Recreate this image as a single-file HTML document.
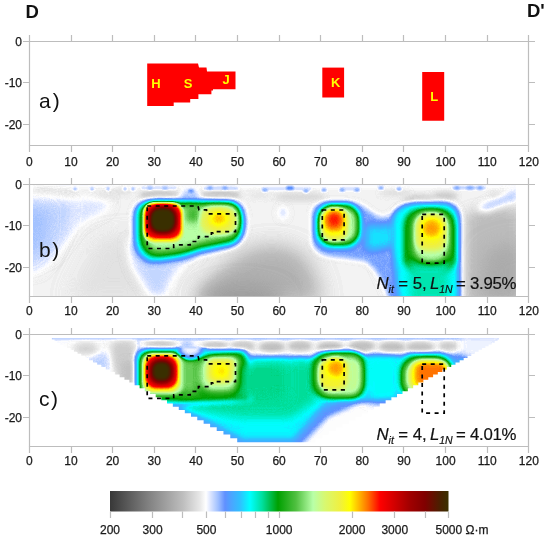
<!DOCTYPE html>
<html><head><meta charset="utf-8"><style>
html,body{margin:0;padding:0;background:#fff;}
svg{display:block;}
.fa{font-family:"Liberation Sans",Arial,sans-serif;font-size:12px;fill:#1a1a1a;stroke:#1a1a1a;stroke-width:0.25px;}
.fb{font-family:"Liberation Sans",Arial,sans-serif;font-size:12px;fill:#1a1a1a;stroke:#1a1a1a;stroke-width:0.25px;}
.lab{font-family:"Liberation Sans",Arial,sans-serif;font-size:21px;fill:#111;}
.big{font-family:"Liberation Sans",Arial,sans-serif;font-size:18.5px;font-weight:bold;fill:#111;}
.ann{font-family:"Liberation Sans",Arial,sans-serif;font-size:16.8px;fill:#111;stroke:#111;stroke-width:0.2px;}
.sub{font-size:10.5px;font-style:italic;}
.it{font-style:italic;}
.let{font-family:"Liberation Sans",Arial,sans-serif;font-size:13px;font-weight:bold;fill:#ffff00;}
</style></head><body>

<svg width="550" height="538" viewBox="0 0 550 538">
<defs>
<filter id="cmap" x="0" y="0" width="1" height="1" color-interpolation-filters="sRGB"><feComponentTransfer><feFuncR type="table" tableValues="0.220 0.229 0.239 0.249 0.259 0.269 0.279 0.289 0.299 0.308 0.318 0.328 0.338 0.348 0.358 0.368 0.377 0.387 0.397 0.407 0.417 0.427 0.437 0.446 0.456 0.466 0.476 0.486 0.496 0.505 0.515 0.524 0.533 0.542 0.552 0.561 0.570 0.579 0.588 0.598 0.607 0.616 0.625 0.635 0.644 0.653 0.662 0.671 0.681 0.690 0.699 0.708 0.718 0.727 0.736 0.745 0.758 0.771 0.784 0.797 0.809 0.822 0.835 0.848 0.861 0.874 0.887 0.900 0.914 0.934 0.954 0.974 0.994 0.973 0.932 0.892 0.851 0.809 0.767 0.726 0.684 0.642 0.597 0.549 0.502 0.454 0.407 0.370 0.354 0.337 0.320 0.304 0.287 0.270 0.254 0.237 0.220 0.204 0.187 0.162 0.137 0.112 0.087 0.062 0.037 0.012 0.000 0.000 0.000 0.000 0.000 0.000 0.000 0.000 0.000 0.000 0.000 0.000 0.000 0.000 0.000 0.000 0.000 0.000 0.000 0.000 0.000 0.010 0.033 0.056 0.080 0.103 0.126 0.149 0.172 0.195 0.218 0.242 0.265 0.288 0.311 0.342 0.374 0.406 0.437 0.469 0.501 0.533 0.565 0.597 0.628 0.660 0.692 0.723 0.736 0.750 0.764 0.778 0.792 0.806 0.820 0.834 0.847 0.856 0.864 0.872 0.881 0.889 0.897 0.906 0.914 0.922 0.931 0.939 0.947 0.955 0.963 0.970 0.978 0.986 0.994 1.000 1.000 1.000 1.000 1.000 1.000 1.000 1.000 1.000 1.000 1.000 1.000 1.000 1.000 1.000 1.000 1.000 1.000 1.000 1.000 1.000 1.000 1.000 0.990 0.974 0.958 0.941 0.925 0.909 0.892 0.876 0.860 0.843 0.827 0.811 0.794 0.777 0.761 0.744 0.727 0.711 0.694 0.677 0.661 0.644 0.627 0.616 0.605 0.594 0.583 0.572 0.561 0.550 0.539 0.527 0.516 0.505 0.489 0.470 0.451 0.433 0.414 0.395 0.376 0.358 0.339 0.320 0.301 0.286 0.276 0.267 0.257 0.247 0.237 0.227"/><feFuncG type="table" tableValues="0.220 0.229 0.239 0.249 0.259 0.269 0.279 0.289 0.299 0.308 0.318 0.328 0.338 0.348 0.358 0.368 0.377 0.387 0.397 0.407 0.417 0.427 0.437 0.446 0.456 0.466 0.476 0.486 0.496 0.505 0.515 0.524 0.533 0.542 0.552 0.561 0.570 0.579 0.588 0.598 0.607 0.616 0.625 0.635 0.644 0.653 0.662 0.671 0.681 0.690 0.699 0.708 0.718 0.727 0.736 0.745 0.758 0.771 0.784 0.797 0.809 0.822 0.835 0.848 0.861 0.874 0.887 0.900 0.914 0.934 0.954 0.974 0.994 0.980 0.950 0.920 0.892 0.866 0.840 0.814 0.788 0.762 0.730 0.694 0.659 0.623 0.587 0.571 0.587 0.604 0.621 0.637 0.654 0.671 0.687 0.704 0.721 0.737 0.755 0.788 0.821 0.854 0.886 0.919 0.952 0.985 0.993 0.979 0.966 0.952 0.939 0.926 0.912 0.899 0.885 0.868 0.847 0.826 0.806 0.785 0.764 0.743 0.722 0.702 0.681 0.660 0.639 0.632 0.641 0.650 0.659 0.669 0.678 0.687 0.696 0.706 0.715 0.724 0.733 0.743 0.752 0.770 0.789 0.809 0.828 0.847 0.866 0.886 0.905 0.924 0.944 0.963 0.982 1.000 0.997 0.994 0.991 0.988 0.985 0.982 0.979 0.975 0.972 0.970 0.967 0.964 0.961 0.959 0.956 0.953 0.950 0.947 0.945 0.942 0.947 0.955 0.963 0.970 0.978 0.986 0.994 0.992 0.951 0.909 0.868 0.827 0.786 0.745 0.704 0.662 0.621 0.579 0.537 0.496 0.454 0.408 0.359 0.311 0.262 0.214 0.165 0.116 0.068 0.019 0.000 0.000 0.000 0.000 0.000 0.000 0.000 0.000 0.000 0.000 0.000 0.000 0.000 0.000 0.000 0.000 0.000 0.000 0.000 0.000 0.000 0.000 0.000 0.000 0.000 0.000 0.000 0.000 0.000 0.000 0.000 0.000 0.000 0.000 0.008 0.019 0.030 0.041 0.052 0.063 0.074 0.086 0.097 0.108 0.119 0.129 0.139 0.149 0.159 0.169 0.178 0.188"/><feFuncB type="table" tableValues="0.220 0.229 0.239 0.249 0.259 0.269 0.279 0.289 0.299 0.308 0.318 0.328 0.338 0.348 0.358 0.368 0.377 0.387 0.397 0.407 0.417 0.427 0.437 0.446 0.456 0.466 0.476 0.486 0.496 0.505 0.515 0.524 0.533 0.542 0.552 0.561 0.570 0.579 0.588 0.598 0.607 0.616 0.625 0.635 0.644 0.653 0.662 0.671 0.681 0.690 0.699 0.708 0.718 0.727 0.736 0.745 0.758 0.771 0.784 0.797 0.809 0.822 0.835 0.848 0.861 0.874 0.887 0.900 0.914 0.934 0.954 0.974 0.994 1.000 1.000 1.000 1.000 1.000 1.000 1.000 1.000 1.000 1.000 1.000 1.000 1.000 1.000 1.000 1.000 1.000 1.000 1.000 1.000 1.000 1.000 1.000 1.000 1.000 1.000 1.000 1.000 1.000 1.000 1.000 1.000 1.000 0.978 0.937 0.896 0.854 0.813 0.772 0.731 0.689 0.648 0.602 0.550 0.498 0.446 0.393 0.341 0.289 0.237 0.185 0.133 0.081 0.029 0.008 0.027 0.045 0.064 0.082 0.101 0.119 0.138 0.156 0.175 0.193 0.212 0.230 0.249 0.279 0.311 0.343 0.375 0.406 0.438 0.470 0.502 0.534 0.566 0.598 0.629 0.657 0.633 0.608 0.584 0.560 0.536 0.511 0.487 0.463 0.439 0.422 0.405 0.389 0.372 0.355 0.339 0.322 0.305 0.289 0.272 0.255 0.226 0.193 0.160 0.127 0.093 0.060 0.027 0.000 0.000 0.000 0.000 0.000 0.000 0.000 0.000 0.000 0.000 0.000 0.000 0.000 0.000 0.000 0.000 0.000 0.000 0.000 0.000 0.000 0.000 0.000 0.000 0.000 0.000 0.000 0.000 0.000 0.000 0.000 0.000 0.000 0.000 0.000 0.000 0.000 0.000 0.000 0.000 0.000 0.000 0.000 0.000 0.000 0.000 0.000 0.000 0.000 0.000 0.000 0.000 0.000 0.000 0.000 0.000 0.000 0.000 0.000 0.000 0.000 0.000 0.000 0.000 0.000 0.000 0.000 0.000 0.000 0.000 0.000 0.000 0.000 0.000 0.000"/></feComponentTransfer><feGaussianBlur stdDeviation="0.6"/></filter>
<filter id="b1" x="-100%" y="-100%" width="300%" height="300%" color-interpolation-filters="sRGB"><feGaussianBlur stdDeviation="1"/></filter><filter id="b1_2" x="-100%" y="-100%" width="300%" height="300%" color-interpolation-filters="sRGB"><feGaussianBlur stdDeviation="1.2"/></filter><filter id="b1_5" x="-100%" y="-100%" width="300%" height="300%" color-interpolation-filters="sRGB"><feGaussianBlur stdDeviation="1.5"/></filter><filter id="b2" x="-100%" y="-100%" width="300%" height="300%" color-interpolation-filters="sRGB"><feGaussianBlur stdDeviation="2"/></filter><filter id="b2_2" x="-100%" y="-100%" width="300%" height="300%" color-interpolation-filters="sRGB"><feGaussianBlur stdDeviation="2.2"/></filter><filter id="b2_4" x="-100%" y="-100%" width="300%" height="300%" color-interpolation-filters="sRGB"><feGaussianBlur stdDeviation="2.4"/></filter><filter id="b2_5" x="-100%" y="-100%" width="300%" height="300%" color-interpolation-filters="sRGB"><feGaussianBlur stdDeviation="2.5"/></filter><filter id="b3" x="-100%" y="-100%" width="300%" height="300%" color-interpolation-filters="sRGB"><feGaussianBlur stdDeviation="3"/></filter><filter id="b3_5" x="-100%" y="-100%" width="300%" height="300%" color-interpolation-filters="sRGB"><feGaussianBlur stdDeviation="3.5"/></filter><filter id="b4" x="-100%" y="-100%" width="300%" height="300%" color-interpolation-filters="sRGB"><feGaussianBlur stdDeviation="4"/></filter><filter id="b5" x="-100%" y="-100%" width="300%" height="300%" color-interpolation-filters="sRGB"><feGaussianBlur stdDeviation="5"/></filter><filter id="b6" x="-100%" y="-100%" width="300%" height="300%" color-interpolation-filters="sRGB"><feGaussianBlur stdDeviation="6"/></filter><filter id="b9" x="-100%" y="-100%" width="300%" height="300%" color-interpolation-filters="sRGB"><feGaussianBlur stdDeviation="9"/></filter><filter id="b10" x="-100%" y="-100%" width="300%" height="300%" color-interpolation-filters="sRGB"><feGaussianBlur stdDeviation="10"/></filter>
<linearGradient id="cbar" x1="0" x2="1" y1="0" y2="0"><stop offset="0.0000" stop-color="#383838"/><stop offset="0.1123" stop-color="#808080"/><stop offset="0.2157" stop-color="#bebebe"/><stop offset="0.2659" stop-color="#e8e8e8"/><stop offset="0.2836" stop-color="#ffffff"/><stop offset="0.2954" stop-color="#e0e8ff"/><stop offset="0.3191" stop-color="#a0c0ff"/><stop offset="0.3397" stop-color="#6090ff"/><stop offset="0.3840" stop-color="#30c0ff"/><stop offset="0.4136" stop-color="#00ffff"/><stop offset="0.4490" stop-color="#00e0a0"/><stop offset="0.4963" stop-color="#00a000"/><stop offset="0.5495" stop-color="#50c040"/><stop offset="0.5997" stop-color="#b8ffa8"/><stop offset="0.6352" stop-color="#d8f870"/><stop offset="0.6795" stop-color="#f0f040"/><stop offset="0.7090" stop-color="#ffff00"/><stop offset="0.7386" stop-color="#ffb000"/><stop offset="0.7622" stop-color="#ff7000"/><stop offset="0.7976" stop-color="#ff0000"/><stop offset="0.8419" stop-color="#d00000"/><stop offset="0.8863" stop-color="#a00000"/><stop offset="0.9306" stop-color="#800000"/><stop offset="0.9749" stop-color="#4a2000"/><stop offset="1.0000" stop-color="#3a3000"/></linearGradient>
<clipPath id="clipb"><rect x="33" y="185" width="483" height="111"/></clipPath>
<clipPath id="clipc"><path d="M50.50 338H499V339.51H497.59V341.09H494.71V342.72H491.71V344.42H488.60V346.17H485.38V347.99H482.04V349.87H478.59V351.81H475.02V353.81H471.35V355.87H467.55V357.99H463.65V360.18H459.62V362.42H455.49V364.73H451.24V367.09H446.88V369.52H442.40V372.01H437.81V374.56H433.11V377.17H428.29V379.84H423.35V382.57H418.31V385.37H413.15V388.22H407.87V391.14H402.48V394.12H396.98V397.15H391.36V400.25H385.63V403.41H379.79V406.63H373.83V409.92H367.76V413.26H361.57V416.66H355.27V420.13H348.86V423.65H342.33V427.24H335.69V430.89H328.93V434.60H322.06V438.37H315.08V442.20H307.98H240.7H237.20V438.37H230.27V434.60H223.44V430.89H216.72V427.24H210.12V423.65H203.63V420.13H197.25V416.66H190.98V413.26H184.82V409.92H178.77V406.63H172.84V403.41H167.02V400.25H161.30V397.15H155.70V394.12H150.21V391.14H144.83V388.22H139.57V385.37H134.41V382.57H129.37V379.84H124.44V377.17H119.61V374.56H114.90V372.01H110.31V369.52H105.82V367.09H101.44V364.73H97.18V362.42H93.03V360.18H88.99V357.99H85.05V355.87H81.24V353.81H77.53V351.81H73.93V349.87H70.45V347.99H67.08V346.17H63.81V344.42H60.66V342.72H57.62V341.09H54.70V339.51H51.88V338.00Z"/></clipPath>
</defs>
<text x="25.5" y="18" class="big">D</text>
<text x="527" y="16.8" class="big">D'</text>
<path d="M29.5 41.5H528.5V145.5H29.5Z" fill="none" stroke="#bdbdbd" stroke-width="1.2"/>
<path d="M29.5 35.0V41.5M29.5 145.5V152.0M71.5 35.0V41.5M71.5 145.5V152.0M112.5 35.0V41.5M112.5 145.5V152.0M154.5 35.0V41.5M154.5 145.5V152.0M195.5 35.0V41.5M195.5 145.5V152.0M237.5 35.0V41.5M237.5 145.5V152.0M279.5 35.0V41.5M279.5 145.5V152.0M320.5 35.0V41.5M320.5 145.5V152.0M362.5 35.0V41.5M362.5 145.5V152.0M403.5 35.0V41.5M403.5 145.5V152.0M445.5 35.0V41.5M445.5 145.5V152.0M487.5 35.0V41.5M487.5 145.5V152.0M528.5 35.0V41.5M528.5 145.5V152.0M23 41.5H29.5M528.5 41.5H535M23 82.5H29.5M528.5 82.5H535M23 124.5H29.5M528.5 124.5H535" fill="none" stroke="#bdbdbd" stroke-width="1.2"/>
<text x="29.4" y="165.5" text-anchor="middle" class="fa">0</text>
<text x="71.0" y="165.5" text-anchor="middle" class="fa">10</text>
<text x="112.6" y="165.5" text-anchor="middle" class="fa">20</text>
<text x="154.3" y="165.5" text-anchor="middle" class="fa">30</text>
<text x="195.9" y="165.5" text-anchor="middle" class="fa">40</text>
<text x="237.5" y="165.5" text-anchor="middle" class="fa">50</text>
<text x="279.1" y="165.5" text-anchor="middle" class="fa">60</text>
<text x="320.7" y="165.5" text-anchor="middle" class="fa">70</text>
<text x="362.3" y="165.5" text-anchor="middle" class="fa">80</text>
<text x="404.0" y="165.5" text-anchor="middle" class="fa">90</text>
<text x="445.6" y="165.5" text-anchor="middle" class="fa">100</text>
<text x="487.2" y="165.5" text-anchor="middle" class="fa">110</text>
<text x="528.8" y="165.5" text-anchor="middle" class="fa">120</text>
<text x="22" y="45.9" text-anchor="end" class="fa">0</text>
<text x="22" y="87.3" text-anchor="end" class="fa">-10</text>
<text x="22" y="128.7" text-anchor="end" class="fa">-20</text>
<path d="M147.2 63.6 L198.0 63.6 L199.0 67.5 L206.5 67.5 L207.0 71.5 L235.5 71.5 L235.5 89.3 L213.0 89.3 L213.0 90.5 L211.4 90.5 L211.4 94.3 L198.4 94.3 L198.4 99.1 L190.2 99.1 L190.2 102.5 L173.7 102.5 L173.7 106.1 L147.2 106.1Z" fill="#ff0000"/>
<path d="M322.3 67.6H344.1V97.5H322.3Z" fill="#ff0000"/>
<path d="M422.2 71.9H444.2V120.8H422.2Z" fill="#ff0000"/>
<text x="155.9" y="88.3" text-anchor="middle" class="let">H</text>
<text x="188.1" y="88.3" text-anchor="middle" class="let">S</text>
<text x="226" y="84" text-anchor="middle" class="let">J</text>
<text x="335.6" y="86.8" text-anchor="middle" class="let">K</text>
<text x="434.2" y="100.9" text-anchor="middle" class="let">L</text>
<text x="39" y="107.5" class="lab">a<tspan dx="2">)</tspan></text>
<g clip-path="url(#clipb)"><g filter="url(#cmap)"><rect x="20" y="175" width="510" height="130" fill="rgb(70,70,70)"/><path d="M195 302 Q215 268 250 250 Q285 240 305 258 Q318 280 322 302 Z" fill="rgb(50,50,50)" filter="url(#b10)"/><ellipse cx="242.0" cy="299.0" rx="42.0" ry="15.0" fill="rgb(41,41,41)" filter="url(#b9)"/><path d="M466 302 L466 215 Q490 205 520 210 L520 302 Z" fill="rgb(55,55,55)" filter="url(#b6)"/><path d="M480 302 L485 250 L520 240 L520 302 Z" fill="rgb(47,47,47)" filter="url(#b10)"/><path d="M70 300 L100 240 L135 235 L150 300 Z" fill="rgb(66,66,66)" filter="url(#b10)"/><rect x="20" y="175" width="510" height="14" fill="rgb(73,73,73)" filter="url(#b1_5)"/><ellipse cx="159.0" cy="195.0" rx="19.0" ry="4.5" fill="rgb(58,58,58)" filter="url(#b2)"/><ellipse cx="221.0" cy="195.0" rx="19.0" ry="4.5" fill="rgb(58,58,58)" filter="url(#b2)"/><ellipse cx="66.0" cy="197.0" rx="9.0" ry="5.0" fill="rgb(67,67,67)" filter="url(#b2)"/><ellipse cx="105.0" cy="197.0" rx="10.0" ry="5.0" fill="rgb(67,67,67)" filter="url(#b2)"/><ellipse cx="122.0" cy="191.0" rx="8.0" ry="4.0" fill="rgb(67,67,67)" filter="url(#b2)"/><ellipse cx="46.0" cy="192.0" rx="11.0" ry="4.0" fill="rgb(68,68,68)" filter="url(#b2)"/><ellipse cx="300.0" cy="197.0" rx="25.0" ry="4.0" fill="rgb(64,64,64)" filter="url(#b2)"/><ellipse cx="445.0" cy="196.0" rx="12.0" ry="4.0" fill="rgb(60,60,60)" filter="url(#b2)"/><ellipse cx="420.0" cy="199.0" rx="16.0" ry="4.0" fill="rgb(60,60,60)" filter="url(#b2)"/><ellipse cx="498.0" cy="197.0" rx="8.0" ry="4.0" fill="rgb(64,64,64)" filter="url(#b2)"/><ellipse cx="395.0" cy="193.0" rx="15.0" ry="3.0" fill="rgb(66,66,66)" filter="url(#b2)"/><ellipse cx="260.0" cy="195.0" rx="10.0" ry="3.0" fill="rgb(68,68,68)" filter="url(#b2)"/><rect x="141.0" y="186.2" width="36.0" height="3.6" rx="1.8" fill="rgb(78,78,78)" filter="url(#b1_2)"/><rect x="203.0" y="186.7" width="36.0" height="3.6" rx="1.8" fill="rgb(79,79,79)" filter="url(#b1_2)"/><rect x="261.0" y="187.2" width="51.0" height="3.6" rx="1.8" fill="rgb(78,78,78)" filter="url(#b1_2)"/><rect x="340.0" y="187.2" width="20.0" height="3.6" rx="1.8" fill="rgb(78,78,78)" filter="url(#b1_2)"/><rect x="452.0" y="186.2" width="34.0" height="3.6" rx="1.8" fill="rgb(79,79,79)" filter="url(#b1_2)"/><ellipse cx="190.0" cy="195.0" rx="9.0" ry="6.0" fill="rgb(80,80,80)" filter="url(#b2_5)"/><ellipse cx="191.0" cy="191.0" rx="3.0" ry="2.0" fill="rgb(87,87,87)" filter="url(#b1)"/><ellipse cx="210.0" cy="188.0" rx="3.0" ry="2.0" fill="rgb(84,84,84)" filter="url(#b1)"/><ellipse cx="225.0" cy="188.0" rx="3.0" ry="2.0" fill="rgb(84,84,84)" filter="url(#b1)"/><ellipse cx="75.0" cy="189.0" rx="2.5" ry="2.0" fill="rgb(82,82,82)" filter="url(#b1)"/><ellipse cx="92.0" cy="189.0" rx="2.5" ry="2.0" fill="rgb(82,82,82)" filter="url(#b1)"/><ellipse cx="108.0" cy="189.0" rx="2.5" ry="2.0" fill="rgb(82,82,82)" filter="url(#b1)"/><ellipse cx="125.0" cy="189.0" rx="2.5" ry="2.0" fill="rgb(82,82,82)" filter="url(#b1)"/><ellipse cx="133.0" cy="189.0" rx="2.5" ry="2.0" fill="rgb(82,82,82)" filter="url(#b1)"/><ellipse cx="265.0" cy="190.0" rx="3.0" ry="2.0" fill="rgb(84,84,84)" filter="url(#b1)"/><ellipse cx="290.0" cy="188.0" rx="4.0" ry="2.0" fill="rgb(89,89,89)" filter="url(#b1)"/><ellipse cx="306.0" cy="191.0" rx="3.0" ry="2.0" fill="rgb(84,84,84)" filter="url(#b1)"/><ellipse cx="324.0" cy="190.0" rx="3.0" ry="2.0" fill="rgb(84,84,84)" filter="url(#b1)"/><ellipse cx="342.0" cy="190.0" rx="3.0" ry="2.0" fill="rgb(84,84,84)" filter="url(#b1)"/><ellipse cx="357.0" cy="190.0" rx="3.0" ry="2.0" fill="rgb(84,84,84)" filter="url(#b1)"/><ellipse cx="381.0" cy="188.0" rx="3.0" ry="2.0" fill="rgb(84,84,84)" filter="url(#b1)"/><ellipse cx="399.0" cy="189.0" rx="3.0" ry="2.0" fill="rgb(84,84,84)" filter="url(#b1)"/><ellipse cx="457.0" cy="188.0" rx="3.0" ry="2.0" fill="rgb(84,84,84)" filter="url(#b1)"/><ellipse cx="470.0" cy="188.0" rx="4.0" ry="2.0" fill="rgb(84,84,84)" filter="url(#b1)"/><ellipse cx="480.0" cy="188.0" rx="3.0" ry="2.0" fill="rgb(84,84,84)" filter="url(#b1)"/><ellipse cx="150.0" cy="188.0" rx="3.0" ry="2.0" fill="rgb(82,82,82)" filter="url(#b1)"/><ellipse cx="165.0" cy="188.0" rx="3.0" ry="2.0" fill="rgb(82,82,82)" filter="url(#b1)"/><path d="M476 210 Q480 203 500 196 L518 188 L518 200 Q500 206 488 212 Z" fill="rgb(79,79,79)" filter="url(#b3)"/><ellipse cx="283.0" cy="213.0" rx="4.0" ry="6.0" fill="rgb(78,78,78)" filter="url(#b3)"/><path d="M25 196 L112 200 L106 210 L80 225 L60 250 L40 272 L25 276 Z" fill="rgb(76,76,76)" filter="url(#b5)"/><path d="M25 200 L70 204 L66 225 L52 255 L25 268 Z" fill="rgb(79,79,79)" filter="url(#b6)"/><path d="M25 208 L48 210 L46 240 L25 258 Z" fill="rgb(81,81,81)" filter="url(#b6)"/><path d="M128 240 Q126 262 140 280 L150 296 L166 296 Q168 278 185 262 L200 254 Z" fill="rgb(78,78,78)" filter="url(#b5)"/><path d="M132 218 Q132 197.5 160 197.5 L228 198.5 Q247 199.5 247 222 Q247 246 228 249.5 L200 256 L190 260 Q165 266 148 265 Q132 258 132 240 Z" fill="rgb(85,85,85)" filter="url(#b2_5)"/><path d="M135 216 Q135 200 158 200 L228 201 Q244 202 244 222 Q244 243 228 246 L200 252 L185 257 Q165 262 150 261 Q135 256 135 235 Z" fill="rgb(105,105,105)" filter="url(#b2)"/><path d="M139 215 Q139 202 158 202 L228 203 Q241 204 241 222 Q241 240 228 242.5 L200 248 L185 253 Q165 258 152 257 Q139 252 139 234 Z" fill="rgb(128,128,128)" filter="url(#b2)"/><path d="M145 214 Q145 206 158 206 L228 207 Q236 208 236 222 Q236 235 228 237 L200 243 L185 248 Q165 252 154 251 Q145 247 145 234 Z" fill="rgb(153,153,153)" filter="url(#b3_5)"/><rect x="186.0" y="207.0" width="14.0" height="15.0" rx="4.0" fill="rgb(138,138,138)" filter="url(#b3)"/><rect x="201.0" y="207.0" width="36.0" height="26.0" rx="8.0" fill="rgb(167,167,167)" filter="url(#b3)"/><ellipse cx="219.0" cy="220.0" rx="15.0" ry="11.0" fill="rgb(175,175,175)" filter="url(#b3_5)"/><ellipse cx="219.0" cy="218.5" rx="8.0" ry="6.5" fill="rgb(187,187,187)" filter="url(#b3)"/><rect x="143.5" y="202.5" width="39.5" height="39.5" rx="10.0" fill="rgb(178,178,178)" filter="url(#b1_2)"/><rect x="145.0" y="204.0" width="36.0" height="35.0" rx="10.0" fill="rgb(204,204,204)" filter="url(#b1_5)"/><rect x="147.5" y="206.0" width="30.5" height="29.0" rx="10.0" fill="rgb(224,224,224)" filter="url(#b2)"/><rect x="150.0" y="207.5" width="25.5" height="25.0" rx="10.0" fill="rgb(255,255,255)" filter="url(#b2_2)"/><path d="M312 215 Q312 201.5 330 201.5 L345 201.5 Q358 201.5 366 208 Q376 217 384 217.5 Q394 214 398 206 L404 300 L390 300 Q384 272 364 261 L340 257.5 Q312 257 312 240 Z" fill="rgb(85,85,85)" filter="url(#b2_5)"/><path d="M366 225 Q384 228 401 222 L401 247 Q388 247 376 251 L366 249 Z" fill="rgb(102,102,102)" filter="url(#b3_5)"/><path d="M372 256 L398 250 L410 300 L392 300 Z" fill="rgb(85,85,85)" filter="url(#b4)"/><rect x="314.5" y="202.5" width="47.5" height="46.5" rx="16.0" fill="rgb(105,105,105)" filter="url(#b2)"/><rect x="318.0" y="205.0" width="41.5" height="40.5" rx="15.0" fill="rgb(128,128,128)" filter="url(#b2)"/><rect x="321.0" y="208.0" width="35.0" height="34.0" rx="12.0" fill="rgb(153,153,153)" filter="url(#b2_5)"/><rect x="322.0" y="209.5" width="25.0" height="30.5" rx="9.0" fill="rgb(176,176,176)" filter="url(#b2_5)"/><rect x="324.0" y="210.0" width="20.5" height="22.0" rx="8.0" fill="rgb(193,193,193)" filter="url(#b3)"/><ellipse cx="334.2" cy="219.7" rx="6.0" ry="6.5" fill="rgb(203,203,203)" filter="url(#b3)"/><path d="M394 220 Q396 201 422 201 L440 201 Q462 201 462 222 L462 300 L390 300 Z" fill="rgb(87,87,87)" filter="url(#b2_5)"/><path d="M393 222 Q393 204 420 204 L442 204 Q458 204 458 222 L458 300 L399 300 Q396 270 393 250 Z" fill="rgb(105,105,105)" filter="url(#b2_5)"/><path d="M403 228 Q403 207.7 425 207.7 L436 207.7 Q456 207.7 456 228 L456 262 Q449 276 430 276 Q410 276 403 262 Z" fill="rgb(128,128,128)" filter="url(#b2_5)"/><path d="M408 262 L450 262 L448 305 L410 305 Z" fill="rgb(113,113,113)" filter="url(#b5)"/><rect x="413.0" y="212.6" width="36.0" height="49.4" rx="14.0" fill="rgb(153,153,153)" filter="url(#b3)"/><rect x="416.5" y="214.0" width="29.5" height="36.0" rx="10.0" fill="rgb(175,175,175)" filter="url(#b3)"/><ellipse cx="431.8" cy="228.2" rx="10.0" ry="10.0" fill="rgb(190,190,190)" filter="url(#b3_5)"/></g></g>
<g fill="none" stroke="#000" stroke-width="1.7" stroke-dasharray="4 4.5">
<path d="M147.2 206.0 L198.0 206.0 L199.0 209.9 L206.5 209.9 L207.0 213.9 L235.5 213.9 L235.5 231.7 L213.0 231.7 L213.0 232.9 L211.4 232.9 L211.4 236.7 L198.4 236.7 L198.4 241.5 L190.2 241.5 L190.2 244.9 L173.7 244.9 L173.7 248.5 L147.2 248.5Z"/><path d="M322.3 210.0H344.1V239.9H322.3Z"/><path d="M422.2 214.3H444.2V263.2H422.2Z"/>
</g>
<path d="M29.5 184.5H528.5V296.5H29.5Z" fill="none" stroke="#bdbdbd" stroke-width="1.2"/>
<path d="M29.5 178.0V184.5M29.5 296.5V303.0M71.5 178.0V184.5M71.5 296.5V303.0M112.5 178.0V184.5M112.5 296.5V303.0M154.5 178.0V184.5M154.5 296.5V303.0M195.5 178.0V184.5M195.5 296.5V303.0M237.5 178.0V184.5M237.5 296.5V303.0M279.5 178.0V184.5M279.5 296.5V303.0M320.5 178.0V184.5M320.5 296.5V303.0M362.5 178.0V184.5M362.5 296.5V303.0M403.5 178.0V184.5M403.5 296.5V303.0M445.5 178.0V184.5M445.5 296.5V303.0M487.5 178.0V184.5M487.5 296.5V303.0M528.5 178.0V184.5M528.5 296.5V303.0M23 184.5H29.5M528.5 184.5H535M23 225.5H29.5M528.5 225.5H535M23 267.5H29.5M528.5 267.5H535" fill="none" stroke="#bdbdbd" stroke-width="1.2"/>
<text x="29.4" y="314.8" text-anchor="middle" class="fb">0</text>
<text x="71.0" y="314.8" text-anchor="middle" class="fb">10</text>
<text x="112.6" y="314.8" text-anchor="middle" class="fb">20</text>
<text x="154.3" y="314.8" text-anchor="middle" class="fb">30</text>
<text x="195.9" y="314.8" text-anchor="middle" class="fb">40</text>
<text x="237.5" y="314.8" text-anchor="middle" class="fb">50</text>
<text x="279.1" y="314.8" text-anchor="middle" class="fb">60</text>
<text x="320.7" y="314.8" text-anchor="middle" class="fb">70</text>
<text x="362.3" y="314.8" text-anchor="middle" class="fb">80</text>
<text x="404.0" y="314.8" text-anchor="middle" class="fb">90</text>
<text x="445.6" y="314.8" text-anchor="middle" class="fb">100</text>
<text x="487.2" y="314.8" text-anchor="middle" class="fb">110</text>
<text x="528.8" y="314.8" text-anchor="middle" class="fb">120</text>
<text x="22" y="188.9" text-anchor="end" class="fb">0</text>
<text x="22" y="230.3" text-anchor="end" class="fb">-10</text>
<text x="22" y="271.7" text-anchor="end" class="fb">-20</text>
<text x="39" y="257.3" class="lab">b<tspan dx="1.5">)</tspan></text>
<text y="289.1" class="ann"><tspan x="376.6" class="it">N</tspan><tspan x="388.6" dy="4" class="sub">it</tspan><tspan x="398.3" dy="-4">= 5,</tspan><tspan x="430" class="it">L</tspan><tspan x="439.2" dy="4" class="sub">1N</tspan><tspan x="456" dy="-4" style="letter-spacing:-0.25px">= 3.95%</tspan></text>
<g clip-path="url(#clipc)"><g filter="url(#cmap)"><rect x="20" y="330" width="510" height="120" fill="rgb(105,105,105)"/><path d="M170 408 L242 446 L296 446 L326 412 L362 396 L395 386 L505 332" fill="none" stroke="rgb(89,89,89)" stroke-width="12" filter="url(#b3)"/><path d="M296 450 L328 416 L362 401 L392 392 L430 382 L520 330 L530 460 Z" fill="rgb(72,72,72)" filter="url(#b2_5)"/><path d="M180 385 L250 370 L300 360 L316 362 L318 400 L300 412 L290 418 L240 418 L185 408 Z" fill="rgb(115,115,115)" filter="url(#b5)"/><path d="M40 336 L140 336 L140 395 L120 395 Z" fill="rgb(72,72,72)" filter="url(#b3)"/><path d="M80 352 L112 352 L112 372 L95 372 Z" fill="rgb(79,79,79)" filter="url(#b4)"/><ellipse cx="86.0" cy="349.0" rx="12.0" ry="6.0" fill="rgb(62,62,62)" filter="url(#b3)"/><path d="M111 344 Q122 338 134 342 L136 388 L122 388 Q112 370 111 344 Z" fill="rgb(60,60,60)" filter="url(#b3_5)"/><ellipse cx="128.0" cy="372.0" rx="6.0" ry="12.0" fill="rgb(56,56,56)" filter="url(#b3)"/><path d="M140 339 L470 339 L470 352 Q440 359 400 357 L370 356 Q330 359 300 357 L250 358 L200 356 L140 352 Z" fill="rgb(87,87,87)" filter="url(#b2)"/><path d="M138 339 L470 339 L470 351 Q440 357 400 355 L370 354 Q330 357 300 355 L250 356 L200 354 L138 351 Z" fill="rgb(72,72,72)" filter="url(#b2)"/><ellipse cx="160.0" cy="345.0" rx="15.0" ry="4.0" fill="rgb(59,59,59)" filter="url(#b2_2)"/><ellipse cx="215.0" cy="347.0" rx="13.0" ry="5.0" fill="rgb(57,57,57)" filter="url(#b2_2)"/><ellipse cx="243.0" cy="346.0" rx="12.0" ry="5.0" fill="rgb(59,59,59)" filter="url(#b2_2)"/><ellipse cx="272.0" cy="347.0" rx="13.0" ry="5.0" fill="rgb(56,56,56)" filter="url(#b2_2)"/><ellipse cx="300.0" cy="346.0" rx="12.0" ry="5.0" fill="rgb(57,57,57)" filter="url(#b2_2)"/><ellipse cx="330.0" cy="347.0" rx="13.0" ry="5.0" fill="rgb(56,56,56)" filter="url(#b2_2)"/><ellipse cx="362.0" cy="346.0" rx="13.0" ry="5.0" fill="rgb(56,56,56)" filter="url(#b2_2)"/><ellipse cx="392.0" cy="347.0" rx="13.0" ry="5.0" fill="rgb(56,56,56)" filter="url(#b2_2)"/><ellipse cx="420.0" cy="347.0" rx="14.0" ry="5.0" fill="rgb(57,57,57)" filter="url(#b2_2)"/><ellipse cx="448.0" cy="346.0" rx="9.0" ry="4.0" fill="rgb(59,59,59)" filter="url(#b2_2)"/><rect x="20" y="330" width="510" height="9.5" fill="rgb(78,78,78)" filter="url(#b1_2)"/><ellipse cx="187.0" cy="347.0" rx="7.0" ry="7.0" fill="rgb(80,80,80)" filter="url(#b2_5)"/><ellipse cx="474.0" cy="350.0" rx="5.0" ry="4.0" fill="rgb(82,82,82)" filter="url(#b2)"/><path d="M462 336 L510 336 L485 360 L462 356 Z" fill="rgb(74,74,74)" filter="url(#b3)"/><path d="M134 358 Q134 347.5 150 347.5 L245 349 Q252 351 252 370 L252 400 L180 405 L134 400 Z" fill="rgb(87,87,87)" filter="url(#b2)"/><path d="M136.5 360 Q136.5 349.5 150 349.5 L240 350.5 Q250 352.5 250 370 L250 400 L180 403 L136.5 400 Z" fill="rgb(105,105,105)" filter="url(#b2)"/><path d="M139.5 361 Q139.5 351.5 152 351.5 L182 351.5 L188 360 L196 358 L240 352.5 Q248 355.5 248 372 L248 400 L180 402 L139.5 400 Z" fill="rgb(128,128,128)" filter="url(#b2)"/><rect x="178.0" y="357.0" width="22.0" height="38.0" rx="8.0" fill="rgb(143,143,143)" filter="url(#b4)"/><rect x="200.0" y="356.0" width="43.0" height="35.0" rx="12.0" fill="rgb(156,156,156)" filter="url(#b3)"/><rect x="208.0" y="359.5" width="29.0" height="22.5" rx="6.0" fill="rgb(176,176,176)" filter="url(#b2_5)"/><ellipse cx="222.0" cy="371.0" rx="8.0" ry="6.0" fill="rgb(184,184,184)" filter="url(#b3)"/><rect x="141.5" y="353.0" width="41.5" height="42.0" rx="9.0" fill="rgb(158,158,158)" filter="url(#b2)"/><rect x="143.5" y="354.0" width="36.5" height="37.5" rx="10.0" fill="rgb(178,178,178)" filter="url(#b1_2)"/><rect x="145.5" y="356.0" width="32.0" height="32.5" rx="10.0" fill="rgb(204,204,204)" filter="url(#b1_5)"/><rect x="148.5" y="358.5" width="26.0" height="26.5" rx="10.0" fill="rgb(224,224,224)" filter="url(#b2_2)"/><rect x="151.5" y="361.0" width="20.0" height="20.5" rx="8.0" fill="rgb(255,255,255)" filter="url(#b2_4)"/><path d="M174 349 Q190 372 208 349 Z" fill="rgb(105,105,105)" filter="url(#b1_5)"/><path d="M177 349 Q190 367 205 349 Z" fill="rgb(84,84,84)" filter="url(#b1_5)"/><path d="M180 347 Q190 362 202 347 Z" fill="rgb(74,74,74)" filter="url(#b1_5)"/><path d="M238 362 L285 362 L285 398 L238 404 Z" fill="rgb(116,116,116)" filter="url(#b6)"/><path d="M330 353 L350 353 Q368 355 368 372 L368 400 L330 400 Z" fill="rgb(105,105,105)" filter="url(#b3)"/><rect x="311.0" y="351.4" width="56.0" height="47.4" rx="16.0" fill="rgb(128,128,128)" filter="url(#b2_5)"/><rect x="318.0" y="356.0" width="45.6" height="39.5" rx="14.0" fill="rgb(156,156,156)" filter="url(#b3)"/><rect x="319.5" y="359.5" width="27.5" height="29.5" rx="9.0" fill="rgb(176,176,176)" filter="url(#b2_5)"/><ellipse cx="335.8" cy="368.0" rx="9.0" ry="9.0" fill="rgb(190,190,190)" filter="url(#b3)"/><rect x="366.0" y="357.0" width="36.0" height="45.0" rx="6.0" fill="rgb(106,106,106)" filter="url(#b4)"/><rect x="397.0" y="353.0" width="58.0" height="47.0" rx="16.0" fill="rgb(105,105,105)" filter="url(#b2_5)"/><rect x="399.6" y="356.0" width="52.4" height="42.0" rx="16.0" fill="rgb(128,128,128)" filter="url(#b2_5)"/><rect x="405.0" y="360.0" width="43.0" height="35.0" rx="14.0" fill="rgb(158,158,158)" filter="url(#b3)"/><rect x="410.0" y="362.0" width="36.0" height="28.0" rx="10.0" fill="rgb(178,178,178)" filter="url(#b2_5)"/><rect x="415.0" y="362.0" width="33.0" height="24.0" rx="7.0" fill="rgb(194,194,194)" filter="url(#b3)"/></g></g>
<g fill="none" stroke="#000" stroke-width="1.7" stroke-dasharray="4 4.5">
<path d="M147.2 355.9 L198.0 355.9 L199.0 359.8 L206.5 359.8 L207.0 363.8 L235.5 363.8 L235.5 381.6 L213.0 381.6 L213.0 382.8 L211.4 382.8 L211.4 386.6 L198.4 386.6 L198.4 391.4 L190.2 391.4 L190.2 394.8 L173.7 394.8 L173.7 398.4 L147.2 398.4Z"/><path d="M322.3 359.9H344.1V389.8H322.3Z"/><path d="M422.2 364.2H444.2V413.1H422.2Z"/>
</g>
<path d="M29.5 334.5H528.5V446.5H29.5Z" fill="none" stroke="#bdbdbd" stroke-width="1.2"/>
<path d="M29.5 328.0V334.5M29.5 446.5V453.0M71.5 328.0V334.5M71.5 446.5V453.0M112.5 328.0V334.5M112.5 446.5V453.0M154.5 328.0V334.5M154.5 446.5V453.0M195.5 328.0V334.5M195.5 446.5V453.0M237.5 328.0V334.5M237.5 446.5V453.0M279.5 328.0V334.5M279.5 446.5V453.0M320.5 328.0V334.5M320.5 446.5V453.0M362.5 328.0V334.5M362.5 446.5V453.0M403.5 328.0V334.5M403.5 446.5V453.0M445.5 328.0V334.5M445.5 446.5V453.0M487.5 328.0V334.5M487.5 446.5V453.0M528.5 328.0V334.5M528.5 446.5V453.0M23 334.5H29.5M528.5 334.5H535M23 375.5H29.5M528.5 375.5H535M23 417.5H29.5M528.5 417.5H535" fill="none" stroke="#bdbdbd" stroke-width="1.2"/>
<text x="29.4" y="464.8" text-anchor="middle" class="fb">0</text>
<text x="71.0" y="464.8" text-anchor="middle" class="fb">10</text>
<text x="112.6" y="464.8" text-anchor="middle" class="fb">20</text>
<text x="154.3" y="464.8" text-anchor="middle" class="fb">30</text>
<text x="195.9" y="464.8" text-anchor="middle" class="fb">40</text>
<text x="237.5" y="464.8" text-anchor="middle" class="fb">50</text>
<text x="279.1" y="464.8" text-anchor="middle" class="fb">60</text>
<text x="320.7" y="464.8" text-anchor="middle" class="fb">70</text>
<text x="362.3" y="464.8" text-anchor="middle" class="fb">80</text>
<text x="404.0" y="464.8" text-anchor="middle" class="fb">90</text>
<text x="445.6" y="464.8" text-anchor="middle" class="fb">100</text>
<text x="487.2" y="464.8" text-anchor="middle" class="fb">110</text>
<text x="528.8" y="464.8" text-anchor="middle" class="fb">120</text>
<text x="22" y="338.9" text-anchor="end" class="fb">0</text>
<text x="22" y="380.3" text-anchor="end" class="fb">-10</text>
<text x="22" y="421.7" text-anchor="end" class="fb">-20</text>
<text x="39" y="406.3" class="lab">c<tspan dx="1.5">)</tspan></text>
<text y="439.6" class="ann"><tspan x="376.6" class="it">N</tspan><tspan x="388.6" dy="4" class="sub">it</tspan><tspan x="398.3" dy="-4">= 4,</tspan><tspan x="430" class="it">L</tspan><tspan x="439.2" dy="4" class="sub">1N</tspan><tspan x="456" dy="-4" style="letter-spacing:-0.25px">= 4.01%</tspan></text>
<rect x="110" y="491" width="338.5" height="20.5" fill="url(#cbar)"/>
<path d="M110.5 511.5V518M152.5 511.5V518M182.5 511.5V518M206.5 511.5V518M225.5 511.5V518M241.5 511.5V518M255.5 511.5V518M268.5 511.5V518M279.5 511.5V518M352.5 511.5V518M394.5 511.5V518M425.5 511.5V518M448.5 511.5V518" stroke="#bdbdbd" stroke-width="1.2"/>
<text x="110.0" y="534.3" text-anchor="middle" class="fb">200</text>
<text x="152.6" y="534.3" text-anchor="middle" class="fb">300</text>
<text x="206.4" y="534.3" text-anchor="middle" class="fb">500</text>
<text x="279.2" y="534.3" text-anchor="middle" class="fb">1000</text>
<text x="352.1" y="534.3" text-anchor="middle" class="fb">2000</text>
<text x="394.8" y="534.3" text-anchor="middle" class="fb">3000</text>
<text x="435.5" y="534.3" class="fb" text-anchor="start">5000 Ω·m</text>
</svg></body></html>
